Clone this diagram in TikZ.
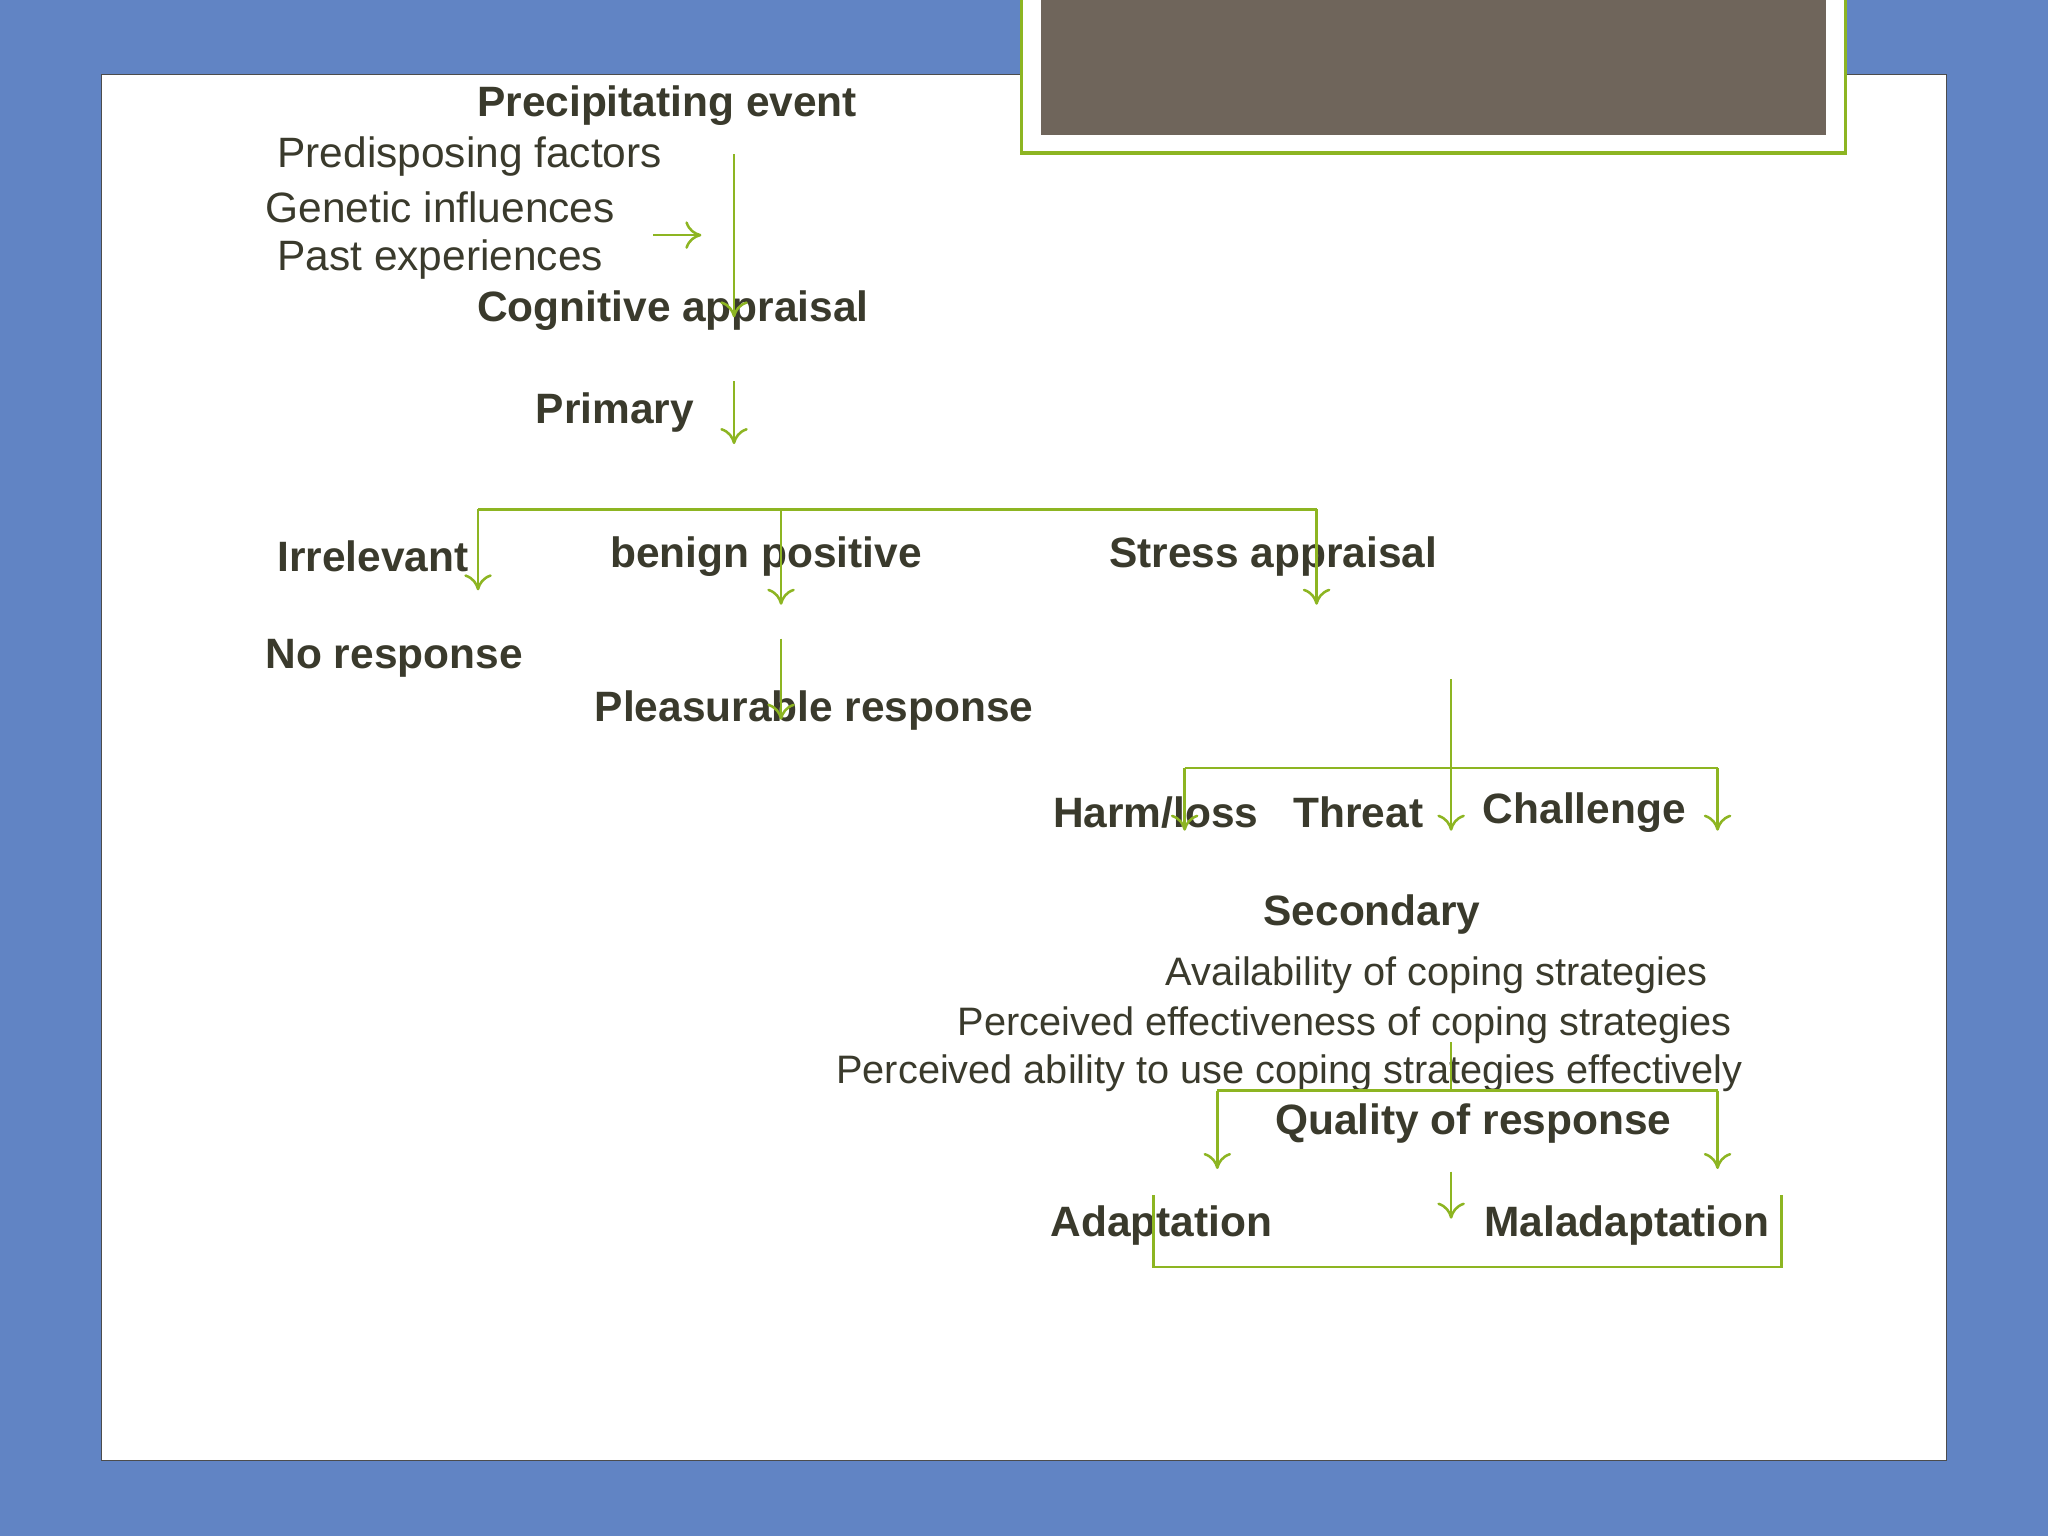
\documentclass[tikz,border=0pt]{standalone}
\usepackage{fontspec}
\setmainfont{Liberation Sans}
\usetikzlibrary{arrows.meta}
\definecolor{bgblue}{HTML}{6184C4}
\definecolor{txt}{HTML}{3A3A2C}
\definecolor{grn}{HTML}{8DB522}
\definecolor{boxgrey}{HTML}{6F655B}
\begin{document}
\begin{tikzpicture}[x=0.02cm,y=-0.02cm,
  b/.style={anchor=west,inner sep=0,text=txt,font=\fontsize{18.5}{22}\selectfont\bfseries},
  r/.style={anchor=west,inner sep=0,text=txt,font=\fontsize{18.5}{22}\selectfont},
  rs/.style={anchor=west,inner sep=0,text=txt,font=\fontsize{17.3}{21}\selectfont},
  ln/.style={draw=grn,line width=1.1pt},
  ar/.style={ln,-{To[length=7pt,width=12pt]}}]
\useasboundingbox (0,0) rectangle (1568,1176);
\fill[bgblue] (0,0) rectangle (1568,1176);
\draw[fill=white,draw=black!70,line width=0.5pt] (78,57) rectangle (1490,1118);
\draw[fill=white,draw=grn,line width=1.5pt] (782,-5) rectangle (1413,117);
\fill[boxgrey] (797,0) rectangle (1398,103);
% texts
\node[b] (pe) at (365,81) {Precipitating event};
\node[r] (pf) at (212,120) {Predisposing factors};
\node[r] (gi) at (203,159) {Genetic influences};
\node[r] (px) at (212,199) {Past experiences};
\node[b] (ca) at (365,238) {Cognitive appraisal};
\node[b] (pr) at (410,316) {Primary};
\node[b] (ir) at (212,426) {Irrelevant};
\node[b] (bp) at (467,426) {benign positive};
\node[b] (sa) at (849,426) {Stress appraisal};
\node[b] (nr) at (203,504) {No response};
\node[b] (pl) at (455,544) {Pleasurable response};
\node[b] (hl) at (806,622) {Harm/loss};
\node[b] (th) at (990,622) {Threat};
\node[b] (ch) at (1135,622) {Challenge};
\node[b] (se) at (967,700) {Secondary};
\node[rs] (av) at (892,747) {Availability of coping strategies};
\node[rs] (ef) at (733,785) {Perceived effectiveness of coping strategies};
\node[rs] (ab) at (640,822) {Perceived ability to use coping strategies effectively};
\node[b] (qr) at (976,860) {Quality of response};
\node[b] (ad) at (804,938) {Adaptation};
\node[b] (ma) at (1136,938) {Maladaptation};
% coordinates
\coordinate (a1) at (562,118); \coordinate (a2) at (562,243);
\coordinate (h1) at (500,180); \coordinate (h2) at (537,180);
\coordinate (p1) at (562,292); \coordinate (p2) at (562,340);
\coordinate (L) at (366,390); \coordinate (M) at (598,390); \coordinate (R) at (1008,390);
\coordinate (Le) at (366,452); \coordinate (Me) at (598,463); \coordinate (Re) at (1008,463);
\coordinate (q1) at (598,489); \coordinate (q2) at (598,551);
\coordinate (s0) at (1111,520); \coordinate (s1) at (1111,588);
\coordinate (sl) at (907,588); \coordinate (sr) at (1315,588);
\coordinate (sle) at (907,636); \coordinate (sme) at (1111,636); \coordinate (sre) at (1315,636);
\coordinate (t0) at (1111,798); \coordinate (t1) at (1111,835);
\coordinate (tl) at (932,835); \coordinate (tr) at (1315,835);
\coordinate (tle) at (932,895); \coordinate (tre) at (1315,895);
\coordinate (u1) at (1111,897); \coordinate (u2) at (1111,933);
\coordinate (w1) at (883,915); \coordinate (w2) at (883,970);
\coordinate (w3) at (1364,970); \coordinate (w4) at (1364,915);
% connectors
\draw[ar] (a1) -- (a2);
\draw[ar] (h1) -- (h2);
\draw[ar] (p1) -- (p2);
\draw[ln] (L) -- (R);
\draw[ar] (L) -- (Le);
\draw[ar] (M) -- (Me);
\draw[ar] (R) -- (Re);
\draw[ar] (q1) -- (q2);
\draw[ln] (s0) -- (s1);
\draw[ln] (sl) -- (sr);
\draw[ar] (sl) -- (sle);
\draw[ar] (s1) -- (sme);
\draw[ar] (sr) -- (sre);
\draw[ln] (t0) -- (t1);
\draw[ln] (tl) -- (tr);
\draw[ar] (tl) -- (tle);
\draw[ar] (tr) -- (tre);
\draw[ar] (u1) -- (u2);
\draw[ln] (w1) -- (w2) -- (w3) -- (w4);
\end{tikzpicture}
\end{document}
